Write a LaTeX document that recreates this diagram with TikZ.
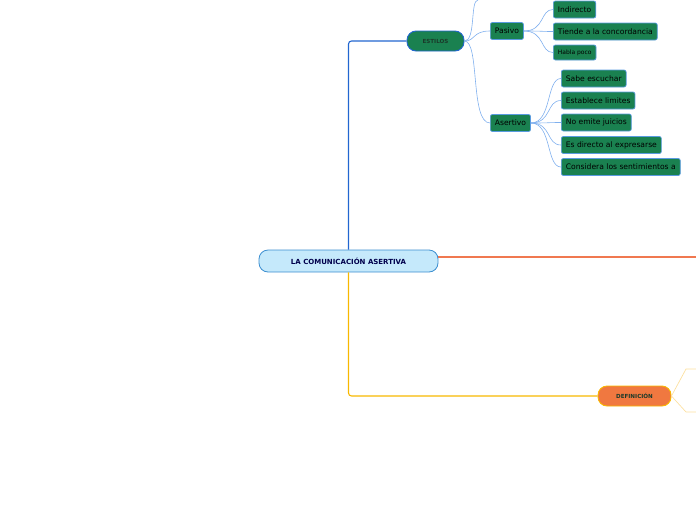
\documentclass[tikz,border=0pt]{standalone}
\usepackage{fontspec}
\setmainfont{DejaVu Sans}
\begin{document}
\begin{tikzpicture}[x=1pt,y=-1pt]
\definecolor{gfill}{HTML}{1A8150}
\definecolor{gdraw}{HTML}{5A9BE0}
\definecolor{cfill}{HTML}{C5E9FB}
\definecolor{cdraw}{HTML}{3B8ED0}
\definecolor{bline}{HTML}{2266D0}
\definecolor{oline}{HTML}{F07850}
\definecolor{yline}{HTML}{F8B800}
\definecolor{pyline}{HTML}{FCE0A0}
\definecolor{dfill}{HTML}{F07840}
\definecolor{conncol}{HTML}{80B0EE}
\definecolor{dtext}{HTML}{1A3A2A}
\tikzset{
  gbox/.style={draw=gdraw, fill=gfill, line width=0.7pt, rounded corners=2pt, inner xsep=4.5pt, inner ysep=0pt, minimum height=17pt, font=\fontsize{7.6}{9}\selectfont, text=black, anchor=west},
  conn/.style={draw=conncol, line width=0.6pt}}
\useasboundingbox (0,0) rectangle (696,520);
\node[draw=cdraw, fill=cfill, line width=0.8pt, rounded corners=9pt, minimum width=179pt, minimum height=22pt, inner sep=0pt, font=\bfseries\fontsize{7}{8}\selectfont, text=blue!30!black] (c) at (348.5,261) {LA COMUNICACIÓN ASERTIVA};
\node[draw=bline, fill=gfill, line width=0.9pt, rounded corners=9pt, minimum width=57pt, minimum height=20pt, inner sep=0pt, font=\bfseries\fontsize{5.6}{7}\selectfont, text=dtext] (est) at (435.5,41) {ESTILOS};
\node[draw=yline, fill=dfill, line width=0.9pt, rounded corners=9pt, minimum width=73pt, minimum height=20pt, inner sep=0pt, font=\bfseries\fontsize{5.6}{7}\selectfont, text=dtext] (def) at (634.5,396) {DEFINICIÓN};
\node[gbox] (pas) at (490,31) {Pasivo};
\node[gbox] (ase) at (490,123) {Asertivo};
\node[gbox] (l1) at (553,9.5) {Indirecto};
\node[gbox] (l2) at (553,31.5) {Tiende a la concordancia};
\node[gbox, minimum height=15pt, font=\fontsize{6}{7}\selectfont] (l3) at (553,52.5) {Habla poco};
\node[gbox] (a1) at (561,78.5) {Sabe escuchar};
\node[gbox] (a2) at (561,100.5) {Establece limites};
\node[gbox] (a3) at (561,122.5) {No emite juicios};
\node[gbox] (a4) at (561,145) {Es directo al expresarse};
\node[gbox] (a5) at (561,167) {Considera los sentimientos a};
\coordinate (top) at (478,0);
\coordinate (oe) at (696,257);
\coordinate (d1) at (686,369);
\coordinate (d2) at (686,412);
\coordinate (d1e) at (696,369);
\coordinate (d2e) at (696,412);
\draw[bline, line width=1.1pt, rounded corners=3pt] (c.north) |- (est.west);
\draw[oline, line width=1.1pt] (c.east |- 0,257) -- (oe);
\draw[yline, line width=1.1pt, rounded corners=3pt] (c.south) |- (def.west);
\draw[pyline, line width=0.7pt] (def.east) -- (d1) -- (d1e) (def.east) -- (d2) -- (d2e);
\draw[conn] (est.east) .. controls (476,41) and (470,0) .. (top);
\draw[conn] (est.east) .. controls (476,41) and (472,31) .. (pas.west);
\draw[conn] (est.east) .. controls (480,41) and (470,123) .. (ase.west);
\foreach \n in {l1,l2,l3} \draw[conn] (pas.east) .. controls (545,31) and (540,0 |- \n.west) .. (\n.west);
\foreach \n in {a1,a2,a3,a4,a5} \draw[conn] (ase.east) .. controls (552,123) and (546,0 |- \n.west) .. (\n.west);
\end{tikzpicture}
\end{document}
